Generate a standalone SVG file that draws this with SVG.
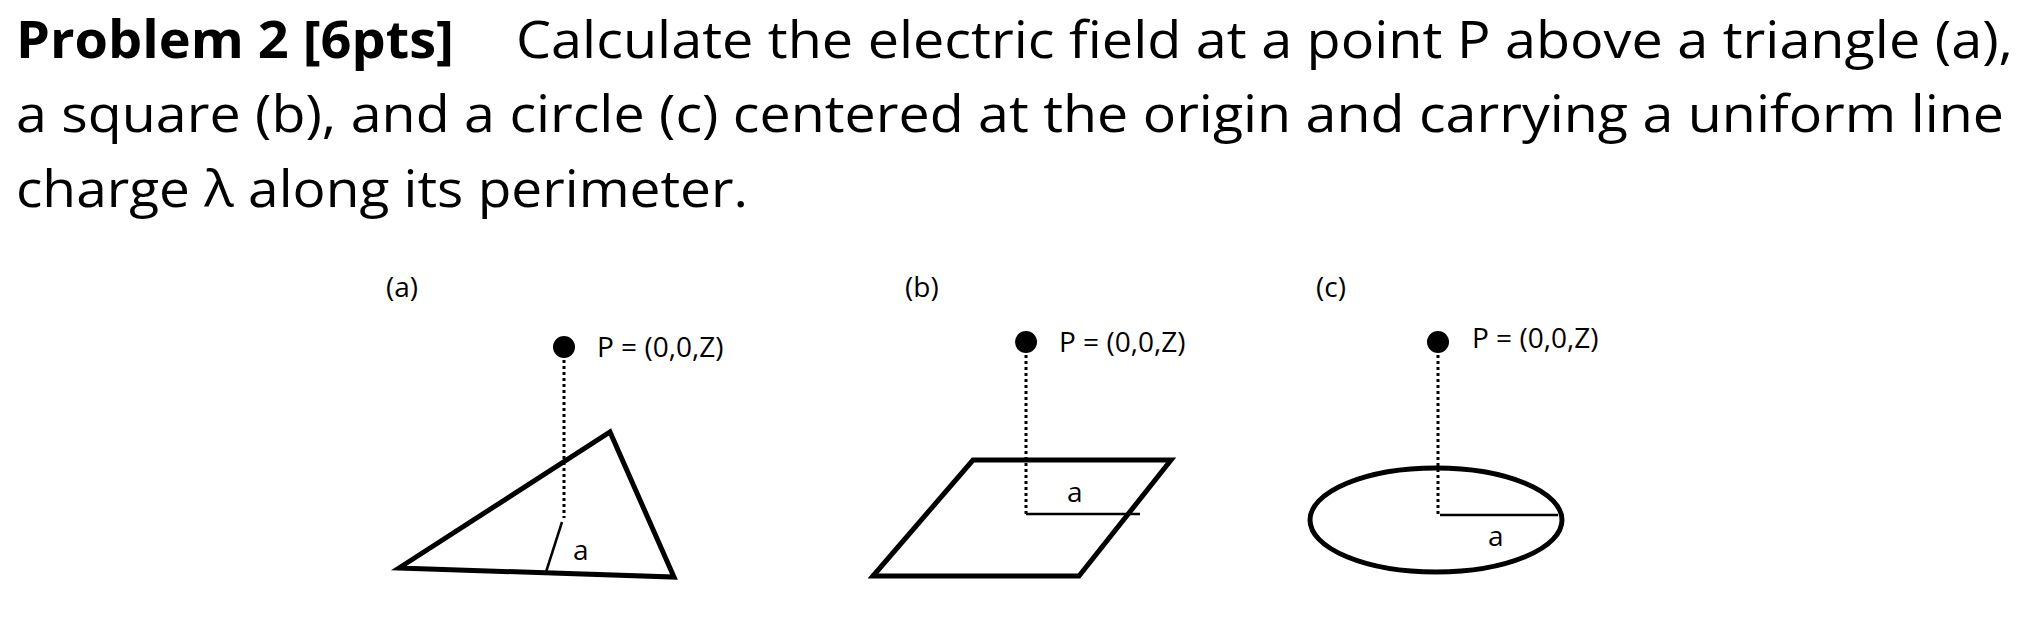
<svg xmlns="http://www.w3.org/2000/svg" width="2034" height="619" viewBox="0 0 2034 619">
<style>
.t{font-family:"Open Sans","Noto Sans",sans-serif;font-size:52px;fill:#000}
.s{font-family:"Open Sans","Noto Sans",sans-serif;font-size:28px;fill:#000}
.shape{fill:none;stroke:#000;stroke-width:5;stroke-linejoin:miter}
.dot{stroke:#000;stroke-width:3;stroke-dasharray:3 3;fill:none}
.thin{stroke:#000;stroke-width:2.5;fill:none}
</style>
<rect width="2034" height="619" fill="#fff"/>
<text class="t" x="16" y="58" font-weight="bold" textLength="438" lengthAdjust="spacingAndGlyphs">Problem 2 [6pts]</text>
<text class="t" x="516" y="58" textLength="1497" lengthAdjust="spacingAndGlyphs">Calculate the electric field at a point P above a triangle (a),</text>
<text class="t" x="16" y="132" textLength="1988" lengthAdjust="spacingAndGlyphs">a square (b), and a circle (c) centered at the origin and carrying a uniform line</text>
<text class="t" x="16" y="207" textLength="732" lengthAdjust="spacingAndGlyphs">charge λ along its perimeter.</text>
<g id="a">
<text class="s" x="386" y="297">(a)</text>
<circle cx="564" cy="347" r="11"/>
<text class="s" x="597" y="357">P = (0,0,Z)</text>
<polygon class="shape" points="399,568 610,432 674,577"/>
<line class="thin" x1="562" y1="522" x2="546" y2="572"/>
<text class="s" x="573" y="560">a</text>
</g>
<g id="b">
<text class="s" x="905" y="297">(b)</text>
<circle cx="1026" cy="342" r="11"/>
<text class="s" x="1059" y="352">P = (0,0,Z)</text>
<polygon class="shape" points="873,576 973,460 1171,460 1079,576"/>
<line class="thin" x1="1026" y1="514" x2="1140" y2="514"/>
<text class="s" x="1067" y="502">a</text>
</g>
<g id="c">
<text class="s" x="1316" y="297">(c)</text>
<circle cx="1438" cy="342" r="11"/>
<text class="s" x="1472" y="348">P = (0,0,Z)</text>
<ellipse class="shape" cx="1436" cy="520" rx="126" ry="52"/>
<line class="thin" x1="1440" y1="515" x2="1558" y2="515"/>
<text class="s" x="1488" y="546">a</text>
</g>
<g id="connectors">
<line class="dot" x1="564" y1="354" x2="564" y2="518"/>
<line class="dot" x1="1026" y1="349" x2="1026" y2="514"/>
<line class="dot" x1="1438" y1="349" x2="1438" y2="515"/>
</g>
</svg>
